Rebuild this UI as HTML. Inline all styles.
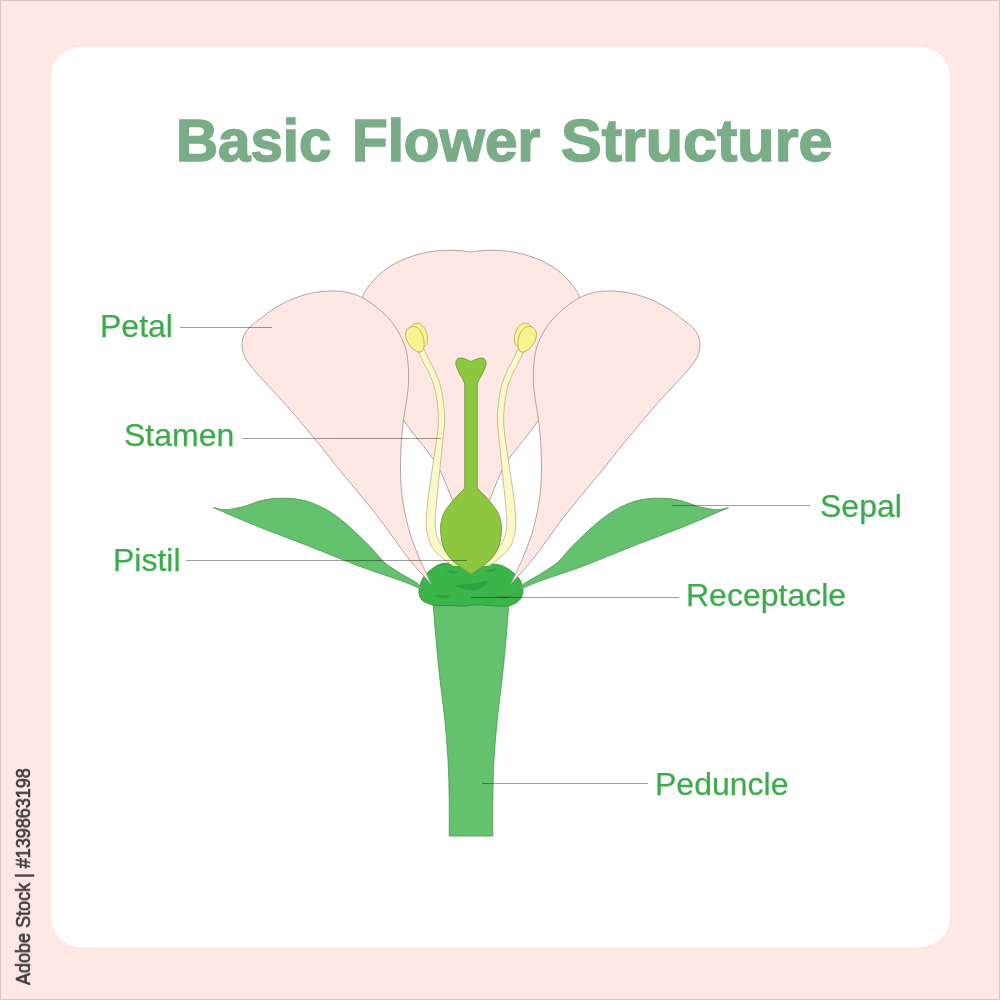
<!DOCTYPE html>
<html><head><meta charset="utf-8"><style>
html,body{margin:0;padding:0;width:1000px;height:1000px;overflow:hidden;background:#ffe7e4}
#frame{position:absolute;left:0;top:0;width:998px;height:998px;border:1px solid #d9c6c3}
#card{position:absolute;left:51px;top:47px;width:899px;height:900px;background:#fff;border-radius:30px}
.t{position:absolute;white-space:nowrap;line-height:1}
.tw{font-family:"Liberation Sans",sans-serif;font-weight:bold;font-size:59px;color:#7aad87;top:112px;-webkit-text-stroke:1.6px #7aad87;transform-origin:0 0}
#wm{position:absolute;left:13px;top:985px;font-family:"Liberation Sans",sans-serif;font-size:20px;line-height:1;color:#3d3d3d;white-space:nowrap;transform-origin:0 0;transform:rotate(-90deg) scaleX(0.9);-webkit-text-stroke:0.7px #3d3d3d;will-change:transform}
.lab{font-family:"Liberation Sans",sans-serif;font-size:32px;color:#3bab4b;-webkit-text-stroke:0.25px #3bab4b;will-change:transform}
</style></head><body>
<div id="frame"></div>
<div id="card"></div>
<div id="wm">Adobe Stock | #139863198</div>
<div class="t tw" style="left:176px;transform:scaleX(0.987)">Basic</div>
<div class="t tw" style="left:352px;transform:scaleX(0.9893)">Flower</div>
<div class="t tw" style="left:561px;transform:scaleX(1.0346)">Structure</div>
<div class="t lab" style="left:100px;top:310px">Petal</div>
<div class="t lab" style="left:124px;top:419px">Stamen</div>
<div class="t lab" style="left:112.5px;top:544px">Pistil</div>
<div class="t lab" style="left:820px;top:490px">Sepal</div>
<div class="t lab" style="left:686px;top:579px">Receptacle</div>
<div class="t lab" style="left:655px;top:768px">Peduncle</div>
<svg width="1000" height="1000" viewBox="0 0 1000 1000" style="position:absolute;left:0;top:0">
<defs><clipPath id="fc"><rect x="0" y="0" width="1000" height="566"/></clipPath></defs>
<g stroke-linejoin="round">
<path d="M471.00,545.00 C464.93,530.33 458.37,514.38 452.80,501.00 C448.12,489.76 443.79,477.82 439.80,470.00 C437.22,464.95 435.92,463.01 432.50,458.00 C426.19,448.76 411.65,432.75 403.50,420.00 C396.08,408.40 390.68,397.59 385.00,385.00 C378.74,371.12 371.91,353.63 368.00,340.00 C364.88,329.13 362.65,317.86 362.00,310.00 C361.59,305.00 361.14,301.80 362.40,297.60 C363.93,292.50 367.84,286.90 372.00,282.00 C376.75,276.41 383.21,270.73 390.00,266.40 C397.13,261.84 405.85,258.21 414.00,255.60 C421.86,253.08 430.14,251.61 438.00,250.80 C445.46,250.03 453.93,250.24 460.00,250.60 C464.31,250.85 467.33,251.53 471.00,252.00 C474.67,251.53 477.69,250.85 482.00,250.60 C488.07,250.24 496.54,250.03 504.00,250.80 C511.86,251.61 520.14,253.08 528.00,255.60 C536.15,258.21 544.87,261.84 552.00,266.40 C558.79,270.73 565.25,276.41 570.00,282.00 C574.16,286.90 578.07,292.50 579.60,297.60 C580.86,301.80 580.41,305.00 580.00,310.00 C579.35,317.86 577.12,329.13 574.00,340.00 C570.09,353.63 563.26,371.12 557.00,385.00 C551.32,397.59 545.92,408.40 538.50,420.00 C530.35,432.75 515.81,448.76 509.50,458.00 C506.08,463.01 504.78,464.95 502.20,470.00 C498.21,477.82 493.88,489.76 489.20,501.00 C483.63,514.38 477.07,530.33 471.00,545.00 Z" fill="#ffe7e4" stroke="#a89c9a" stroke-width="0.9"/>
<path d="M432.80,600.00 C433.87,613.33 434.80,626.67 436.00,640.00 C437.20,653.34 438.53,666.67 440.00,680.00 C441.47,693.34 443.47,706.65 444.80,720.00 C446.13,733.32 447.27,746.66 448.00,760.00 C448.73,773.32 449.01,787.02 449.20,800.00 C449.38,812.31 449.20,824.00 449.20,836.00 C463.73,836.00 478.27,836.00 492.80,836.00 C492.80,824.00 492.62,812.31 492.80,800.00 C492.99,787.02 493.27,773.32 494.00,760.00 C494.73,746.66 495.87,733.32 497.20,720.00 C498.53,706.65 500.53,693.34 502.00,680.00 C503.47,666.67 504.80,653.34 506.00,640.00 C507.20,626.67 508.13,613.33 509.20,600.00 Z" fill="#64c16e" stroke="#3f8f4a" stroke-width="0.7"/>
<path d="M419.00,591.00 C418.92,593.98 419.51,596.92 421.00,599.00 C422.50,601.09 425.49,602.42 428.00,603.50 C430.50,604.58 432.94,605.12 436.00,605.50 C439.99,605.99 445.33,605.38 450.00,605.50 C454.67,605.62 459.52,606.35 464.00,606.20 C468.16,606.06 471.84,604.92 476.00,604.80 C480.48,604.67 485.18,605.37 490.00,605.60 C495.15,605.84 501.47,606.78 506.00,606.20 C509.47,605.76 512.44,604.95 515.00,603.50 C517.38,602.15 519.67,600.24 521.00,598.00 C522.34,595.75 523.07,592.81 523.00,590.00 C522.93,586.84 521.74,583.00 520.00,580.00 C518.16,576.83 515.15,574.03 512.00,571.60 C508.57,568.96 504.38,566.28 500.00,565.00 C495.41,563.66 489.90,563.82 485.00,564.00 C480.24,564.18 475.75,565.98 471.00,566.00 C466.09,566.02 460.89,564.40 456.00,564.00 C451.37,563.62 446.53,562.69 442.40,563.60 C438.59,564.44 435.17,566.49 432.00,568.80 C428.67,571.23 425.16,574.37 423.00,578.00 C420.78,581.73 419.10,587.18 419.00,591.00 Z" fill="#3bb44a" stroke="#2f8d3b" stroke-width="0.8"/>
<g fill="#31a243">
<path d="M445.5,570 Q452,570.5 458,571.8 Q453,576 445.5,570Z"/>
<path d="M455,585 Q470,584.5 488.5,580.5 Q482,592 468,590 Q460,589 455,585Z"/>
<path d="M434,594.5 Q443,595 452,595.8 Q443,602 434,594.5Z"/>
<path d="M485,570.5 Q491,569.5 497,567.5 Q492,575 485,570.5Z"/>
<path d="M495,596 Q505,596 514,594.5 Q505,603 495,596Z"/>
</g>
<path d="M422.80,588.60 C421.20,587.00 420.26,585.56 418.00,583.80 C414.03,580.70 405.73,576.70 400.00,573.00 C394.55,569.49 389.05,566.28 384.40,562.20 C379.89,558.25 376.45,553.25 372.40,549.00 C368.45,544.86 364.63,541.05 360.40,537.00 C355.86,532.66 351.19,528.06 346.00,523.80 C340.45,519.24 334.19,514.26 328.00,510.60 C322.17,507.14 315.83,504.20 310.00,502.20 C304.87,500.44 299.75,499.45 295.00,498.80 C290.80,498.22 287.00,498.20 283.00,498.20 C279.00,498.20 274.98,498.31 271.00,498.80 C266.98,499.30 262.96,500.12 259.00,501.20 C254.96,502.30 251.03,504.19 247.00,505.40 C243.03,506.59 239.03,507.70 235.00,508.40 C231.03,509.09 226.76,509.80 223.00,509.60 C219.61,509.42 216.60,508.27 213.40,507.60 C226.60,513.27 238.54,518.71 253.00,524.60 C270.22,531.61 291.84,539.46 310.00,546.60 C326.71,553.17 341.93,559.78 358.00,565.80 C373.93,571.77 394.16,578.00 406.00,582.60 C413.10,585.36 417.20,587.40 422.80,589.80 Z" fill="#64c16e" stroke="#3f8f4a" stroke-width="0.7"/>
<path d="M519.20,588.60 C520.80,587.00 521.74,585.56 524.00,583.80 C527.97,580.70 536.27,576.70 542.00,573.00 C547.45,569.49 552.95,566.28 557.60,562.20 C562.11,558.25 565.55,553.25 569.60,549.00 C573.55,544.86 577.37,541.05 581.60,537.00 C586.14,532.66 590.81,528.06 596.00,523.80 C601.55,519.24 607.81,514.26 614.00,510.60 C619.83,507.14 626.17,504.20 632.00,502.20 C637.13,500.44 642.25,499.45 647.00,498.80 C651.20,498.22 655.00,498.20 659.00,498.20 C663.00,498.20 667.02,498.31 671.00,498.80 C675.02,499.30 679.04,500.12 683.00,501.20 C687.04,502.30 690.97,504.19 695.00,505.40 C698.97,506.59 702.97,507.70 707.00,508.40 C710.97,509.09 715.24,509.80 719.00,509.60 C722.39,509.42 725.40,508.27 728.60,507.60 C715.40,513.27 703.46,518.71 689.00,524.60 C671.78,531.61 650.16,539.46 632.00,546.60 C615.29,553.17 600.07,559.78 584.00,565.80 C568.07,571.77 547.84,578.00 536.00,582.60 C528.90,585.36 524.80,587.40 519.20,589.80 Z" fill="#64c16e" stroke="#3f8f4a" stroke-width="0.7"/>
<path d="M431.40,584.40 C424.13,576.20 417.19,569.21 409.60,559.80 C400.23,548.18 388.97,531.09 380.00,519.40 C372.91,510.16 366.87,502.89 360.40,495.00 C354.21,487.45 348.58,481.06 342.00,473.00 C334.14,463.37 325.71,452.18 316.50,441.00 C306.07,428.33 292.38,412.11 282.50,401.00 C275.20,392.79 268.79,386.46 263.00,380.00 C258.18,374.62 253.36,369.63 250.00,365.00 C247.43,361.45 245.33,358.45 244.00,355.00 C242.75,351.77 242.08,348.04 242.00,345.00 C241.93,342.47 242.19,340.40 243.00,338.00 C243.98,335.10 245.63,331.87 248.00,329.00 C250.93,325.47 255.72,322.35 260.00,319.00 C264.67,315.35 269.48,311.37 275.00,308.00 C281.05,304.31 288.20,300.60 295.00,298.00 C301.55,295.49 308.28,293.67 315.00,292.50 C321.61,291.35 328.82,290.82 335.00,291.00 C340.37,291.15 345.34,291.83 350.00,293.00 C354.29,294.08 358.03,295.49 362.00,297.50 C366.37,299.71 370.66,302.60 375.00,306.00 C379.99,309.91 385.75,314.99 390.00,320.00 C393.99,324.70 397.29,329.86 400.00,335.00 C402.56,339.87 404.59,344.54 406.00,350.00 C407.57,356.10 408.17,363.32 408.50,370.00 C408.83,376.65 408.64,382.68 408.00,390.00 C407.21,399.01 404.62,411.00 403.50,420.00 C402.58,427.33 401.99,432.65 401.50,440.00 C400.90,448.98 400.36,460.36 400.50,470.00 C400.63,478.98 400.91,486.89 402.10,496.00 C403.44,506.27 405.83,518.36 408.60,528.50 C411.13,537.74 414.12,545.62 417.70,554.50 C421.61,564.21 426.83,574.43 431.40,584.40 Z" fill="#ffe7e4" stroke="#a89c9a" stroke-width="0.9"/>
<path d="M510.60,584.40 C517.87,576.20 524.81,569.21 532.40,559.80 C541.77,548.18 553.03,531.09 562.00,519.40 C569.09,510.16 575.13,502.89 581.60,495.00 C587.79,487.45 593.42,481.06 600.00,473.00 C607.86,463.37 616.29,452.18 625.50,441.00 C635.93,428.33 649.62,412.11 659.50,401.00 C666.80,392.79 673.21,386.46 679.00,380.00 C683.82,374.62 688.64,369.63 692.00,365.00 C694.57,361.45 696.67,358.45 698.00,355.00 C699.25,351.77 699.92,348.04 700.00,345.00 C700.07,342.47 699.81,340.40 699.00,338.00 C698.02,335.10 696.37,331.87 694.00,329.00 C691.07,325.47 686.28,322.35 682.00,319.00 C677.33,315.35 672.52,311.37 667.00,308.00 C660.95,304.31 653.80,300.60 647.00,298.00 C640.45,295.49 633.72,293.67 627.00,292.50 C620.39,291.35 613.18,290.82 607.00,291.00 C601.63,291.15 596.66,291.83 592.00,293.00 C587.71,294.08 583.97,295.49 580.00,297.50 C575.63,299.71 571.34,302.60 567.00,306.00 C562.01,309.91 556.25,314.99 552.00,320.00 C548.01,324.70 544.71,329.86 542.00,335.00 C539.44,339.87 537.41,344.54 536.00,350.00 C534.43,356.10 533.83,363.32 533.50,370.00 C533.17,376.65 533.36,382.68 534.00,390.00 C534.79,399.01 537.38,411.00 538.50,420.00 C539.42,427.33 540.01,432.65 540.50,440.00 C541.10,448.98 541.64,460.36 541.50,470.00 C541.37,478.98 541.09,486.89 539.90,496.00 C538.56,506.27 536.17,518.36 533.40,528.50 C530.87,537.74 527.88,545.62 524.30,554.50 C520.39,564.21 515.17,574.43 510.60,584.40 Z" fill="#ffe7e4" stroke="#a89c9a" stroke-width="0.9"/>
<g clip-path="url(#fc)">
<path d="M418.20,351.33 L418.88,352.76 L419.57,354.22 L420.27,355.71 L420.97,357.21 L421.68,358.70 L422.37,360.16 L423.05,361.58 L423.71,362.94 L424.34,364.23 L424.94,365.42 L425.34,366.16 L425.71,366.84 L426.06,367.45 L426.39,368.02 L426.71,368.55 L427.00,369.06 L427.30,369.57 L427.59,370.11 L427.88,370.68 L428.20,371.33 L428.75,372.51 L429.35,373.82 L429.97,375.22 L430.61,376.69 L431.25,378.21 L431.88,379.77 L432.48,381.34 L433.05,382.89 L433.57,384.42 L434.03,385.89 L434.43,387.29 L434.80,388.69 L435.13,390.09 L435.44,391.50 L435.73,392.92 L436.00,394.36 L436.24,395.82 L436.48,397.32 L436.71,398.85 L436.93,400.42 L437.18,402.26 L437.41,404.12 L437.63,406.00 L437.83,407.90 L438.01,409.82 L438.16,411.78 L438.28,413.76 L438.36,415.79 L438.40,417.85 L438.40,419.95 L438.32,422.64 L438.15,425.49 L437.91,428.47 L437.60,431.53 L437.26,434.65 L436.88,437.77 L436.47,440.87 L436.01,443.90 L435.58,446.83 L435.19,449.61 L434.89,451.74 L434.61,453.74 L434.32,455.66 L434.04,457.53 L433.76,459.38 L433.47,461.25 L433.17,463.17 L432.87,465.18 L432.56,467.29 L432.23,469.54 L431.73,472.96 L431.17,476.69 L430.57,480.66 L429.95,484.79 L429.32,489.01 L428.71,493.23 L428.14,497.38 L427.66,501.39 L427.29,505.18 L427.01,508.65 L426.85,510.88 L426.68,513.00 L426.51,515.05 L426.36,517.07 L426.24,519.06 L426.16,521.04 L426.14,523.03 L426.18,525.03 L426.31,527.05 L426.54,529.07 L426.81,530.95 L427.13,532.81 L427.50,534.68 L427.93,536.55 L428.42,538.41 L428.99,540.26 L429.63,542.08 L430.37,543.87 L431.20,545.62 L432.14,547.32 L433.17,548.89 L434.29,550.37 L435.48,551.76 L436.71,553.06 L437.98,554.29 L439.25,555.45 L440.53,556.54 L441.79,557.58 L443.01,558.57 L444.19,559.52 L445.28,560.38 L446.40,561.24 L447.53,562.08 L448.68,562.90 L449.86,563.70 L451.07,564.47 L452.31,565.20 L453.59,565.90 L454.91,566.55 L456.24,567.14 L457.60,567.69 L458.98,568.20 L460.39,568.68 L461.84,569.11 L463.32,569.50 L464.82,569.84 L466.34,570.12 L467.88,570.32 L469.43,570.45 L471.00,570.50 L472.57,570.45 L474.12,570.32 L475.66,570.12 L477.18,569.84 L478.68,569.50 L480.16,569.11 L481.61,568.68 L483.02,568.20 L484.40,567.69 L485.76,567.14 L487.09,566.55 L488.41,565.90 L489.69,565.20 L490.93,564.47 L492.14,563.70 L493.32,562.90 L494.47,562.08 L495.60,561.24 L496.72,560.38 L497.81,559.52 L498.99,558.57 L500.21,557.58 L501.47,556.54 L502.75,555.45 L504.02,554.29 L505.29,553.06 L506.52,551.76 L507.71,550.37 L508.83,548.89 L509.86,547.32 L510.80,545.62 L511.63,543.87 L512.37,542.08 L513.01,540.26 L513.58,538.41 L514.07,536.55 L514.50,534.68 L514.87,532.81 L515.19,530.95 L515.46,529.07 L515.69,527.05 L515.82,525.03 L515.86,523.03 L515.84,521.04 L515.76,519.06 L515.64,517.07 L515.49,515.05 L515.32,513.00 L515.15,510.88 L514.99,508.65 L514.71,505.18 L514.34,501.39 L513.86,497.38 L513.29,493.23 L512.68,489.01 L512.05,484.79 L511.43,480.66 L510.83,476.69 L510.27,472.96 L509.77,469.54 L509.44,467.29 L509.13,465.18 L508.83,463.17 L508.53,461.25 L508.24,459.38 L507.96,457.53 L507.68,455.66 L507.39,453.74 L507.11,451.74 L506.81,449.61 L506.42,446.83 L505.99,443.90 L505.53,440.87 L505.12,437.77 L504.74,434.65 L504.40,431.53 L504.09,428.47 L503.85,425.49 L503.68,422.64 L503.60,419.95 L503.60,417.85 L503.64,415.79 L503.72,413.76 L503.84,411.78 L503.99,409.82 L504.17,407.90 L504.37,406.00 L504.59,404.12 L504.82,402.26 L505.07,400.42 L505.29,398.85 L505.52,397.32 L505.76,395.82 L506.00,394.36 L506.27,392.92 L506.56,391.50 L506.87,390.09 L507.20,388.69 L507.57,387.29 L507.97,385.89 L508.43,384.42 L508.95,382.89 L509.52,381.34 L510.12,379.77 L510.75,378.21 L511.39,376.69 L512.03,375.22 L512.65,373.82 L513.25,372.51 L513.80,371.33 L514.12,370.68 L514.41,370.11 L514.70,369.57 L515.00,369.06 L515.29,368.55 L515.61,368.02 L515.94,367.45 L516.29,366.84 L516.66,366.16 L517.06,365.42 L517.66,364.23 L518.29,362.94 L518.95,361.58 L519.63,360.16 L520.32,358.70 L521.03,357.21 L521.73,355.71 L522.43,354.22 L523.12,352.76 L523.80,351.33 L518.20,348.67 L517.52,350.10 L516.82,351.57 L516.12,353.07 L515.42,354.57 L514.72,356.05 L514.03,357.50 L513.36,358.90 L512.72,360.22 L512.11,361.46 L511.54,362.58 L511.21,363.22 L510.89,363.80 L510.57,364.35 L510.27,364.87 L509.95,365.41 L509.63,365.96 L509.29,366.56 L508.94,367.20 L508.57,367.90 L508.20,368.67 L507.62,369.91 L507.00,371.27 L506.35,372.73 L505.69,374.26 L505.02,375.86 L504.36,377.50 L503.72,379.16 L503.11,380.83 L502.54,382.49 L502.03,384.11 L501.59,385.65 L501.19,387.18 L500.82,388.70 L500.49,390.22 L500.18,391.74 L499.90,393.27 L499.64,394.82 L499.39,396.38 L499.16,397.96 L498.93,399.58 L498.68,401.46 L498.43,403.37 L498.21,405.31 L498.00,407.28 L497.81,409.30 L497.65,411.36 L497.53,413.46 L497.44,415.60 L497.40,417.80 L497.40,420.05 L497.49,422.92 L497.67,425.93 L497.92,429.03 L498.23,432.18 L498.58,435.36 L498.96,438.53 L499.32,441.65 L499.64,444.69 L499.93,447.61 L500.19,450.39 L500.39,452.53 L500.58,454.57 L500.78,456.52 L500.98,458.42 L501.18,460.30 L501.38,462.18 L501.58,464.11 L501.79,466.11 L502.01,468.21 L502.23,470.46 L502.57,473.92 L502.96,477.69 L503.38,481.68 L503.80,485.83 L504.23,490.04 L504.64,494.25 L505.02,498.36 L505.39,502.30 L505.74,505.98 L506.01,509.35 L506.18,511.57 L506.35,513.72 L506.51,515.74 L506.66,517.67 L506.77,519.51 L506.84,521.28 L506.86,522.98 L506.82,524.64 L506.72,526.27 L506.54,527.93 L506.30,529.54 L506.02,531.18 L505.70,532.80 L505.34,534.39 L504.93,535.94 L504.47,537.44 L503.96,538.87 L503.40,540.23 L502.80,541.50 L502.14,542.68 L501.47,543.71 L500.70,544.72 L499.84,545.73 L498.89,546.73 L497.87,547.72 L496.79,548.70 L495.67,549.66 L494.52,550.61 L493.35,551.56 L492.19,552.48 L491.17,553.29 L490.17,554.06 L489.18,554.80 L488.19,555.51 L487.21,556.17 L486.22,556.79 L485.24,557.37 L484.26,557.91 L483.26,558.40 L482.24,558.86 L481.15,559.30 L480.02,559.72 L478.87,560.10 L477.71,560.45 L476.55,560.76 L475.40,561.02 L474.26,561.23 L473.14,561.38 L472.05,561.47 L471.00,561.50 L469.95,561.47 L468.86,561.38 L467.74,561.23 L466.60,561.02 L465.45,560.76 L464.29,560.45 L463.13,560.10 L461.98,559.72 L460.85,559.30 L459.76,558.86 L458.74,558.40 L457.74,557.91 L456.76,557.37 L455.78,556.79 L454.79,556.17 L453.81,555.51 L452.82,554.80 L451.83,554.06 L450.83,553.29 L449.81,552.48 L448.65,551.56 L447.48,550.61 L446.33,549.66 L445.21,548.70 L444.13,547.72 L443.11,546.73 L442.16,545.73 L441.30,544.72 L440.53,543.71 L439.86,542.68 L439.20,541.50 L438.60,540.23 L438.04,538.87 L437.53,537.44 L437.07,535.94 L436.66,534.39 L436.30,532.80 L435.98,531.18 L435.70,529.54 L435.46,527.93 L435.28,526.27 L435.18,524.64 L435.14,522.98 L435.16,521.28 L435.23,519.51 L435.34,517.67 L435.49,515.74 L435.65,513.72 L435.82,511.57 L435.99,509.35 L436.26,505.98 L436.61,502.30 L436.98,498.36 L437.36,494.25 L437.77,490.04 L438.20,485.83 L438.62,481.68 L439.04,477.69 L439.43,473.92 L439.77,470.46 L439.99,468.21 L440.21,466.11 L440.42,464.11 L440.62,462.18 L440.82,460.30 L441.02,458.42 L441.22,456.52 L441.42,454.57 L441.61,452.53 L441.81,450.39 L442.07,447.61 L442.36,444.69 L442.68,441.65 L443.04,438.53 L443.42,435.36 L443.77,432.18 L444.08,429.03 L444.33,425.93 L444.51,422.92 L444.60,420.05 L444.60,417.80 L444.56,415.60 L444.47,413.46 L444.35,411.36 L444.19,409.30 L444.00,407.28 L443.79,405.31 L443.57,403.37 L443.32,401.46 L443.07,399.58 L442.84,397.96 L442.61,396.38 L442.36,394.82 L442.10,393.27 L441.82,391.74 L441.51,390.22 L441.18,388.70 L440.81,387.18 L440.41,385.65 L439.97,384.11 L439.46,382.49 L438.89,380.83 L438.28,379.16 L437.64,377.50 L436.98,375.86 L436.31,374.26 L435.65,372.73 L435.00,371.27 L434.38,369.91 L433.80,368.67 L433.43,367.90 L433.06,367.20 L432.71,366.56 L432.37,365.96 L432.05,365.41 L431.73,364.87 L431.43,364.35 L431.11,363.80 L430.79,363.22 L430.46,362.58 L429.89,361.46 L429.28,360.22 L428.64,358.90 L427.97,357.50 L427.28,356.05 L426.58,354.57 L425.88,353.07 L425.18,351.57 L424.48,350.10 L423.80,348.67 Z" fill="#fbf9c9" stroke="#b4b188" stroke-width="0.8"/>
</g>
<g fill="#f8f38f" stroke="#a8a45e" stroke-width="0.7">
<path d="M0,-13.5 C5.5,-13.5 8.5,-8 8.3,-2 C8,6 4,13.5 0,13.5 C-4,13.5 -8,6 -8.3,-2 C-8.5,-8 -5.5,-13.5 0,-13.5 Z" transform="translate(419.5 335) rotate(-27) scale(0.92)"/>
<path d="M0,-13.5 C5.5,-13.5 8.5,-8 8.3,-2 C8,6 4,13.5 0,13.5 C-4,13.5 -8,6 -8.3,-2 C-8.5,-8 -5.5,-13.5 0,-13.5 Z" transform="translate(415.5 339.5) rotate(-24)"/>
<path d="M0,-13.5 C5.5,-13.5 8.5,-8 8.3,-2 C8,6 4,13.5 0,13.5 C-4,13.5 -8,6 -8.3,-2 C-8.5,-8 -5.5,-13.5 0,-13.5 Z" transform="translate(522.5 335) rotate(27) scale(0.92)"/>
<path d="M0,-13.5 C5.5,-13.5 8.5,-8 8.3,-2 C8,6 4,13.5 0,13.5 C-4,13.5 -8,6 -8.3,-2 C-8.5,-8 -5.5,-13.5 0,-13.5 Z" transform="translate(526.5 339.5) rotate(24)"/>
</g>
<path d="M471,574.5 C464.93,570.00 457.54,565.87 452.80,561.00 C448.84,556.93 445.75,553.04 443.70,548.00 C441.41,542.38 440.56,534.01 440.50,528.50 C440.46,524.47 441.13,521.10 442.00,518.00 C442.74,515.38 443.56,513.47 445.00,511.00 C446.90,507.74 449.97,504.07 453.00,500.50 C456.45,496.43 460.83,492.17 464.75,488.00 L464.75,384 C463.5,379 457,371 456,365 C455.2,360 457.5,357.8 461,358 C465,358.5 468,360 471,361.5 C474,360 477,358.5 481,358 C484.5,357.8 486.8,360 486,365 C485,371 478.5,379 477.25,384 L477.25,488 C481.17,492.17 485.55,496.43 489.00,500.50 C492.03,504.07 495.10,507.74 497.00,511.00 C498.44,513.47 499.26,515.38 500.00,518.00 C500.87,521.10 501.54,524.47 501.50,528.50 C501.44,534.01 500.59,542.38 498.30,548.00 C496.25,553.04 493.16,556.93 489.20,561.00 C484.46,565.87 477.07,570.00 471.00,574.50 Z" fill="#8dc63f" stroke="#6a9239" stroke-width="0.8"/>
<g stroke="#000" stroke-opacity="0.38" stroke-width="1">
<line x1="180" y1="327.5" x2="272" y2="327.5"/>
<line x1="242" y1="438.5" x2="441" y2="438.5"/>
<line x1="186" y1="560.5" x2="467" y2="560.5"/>
<line x1="672" y1="505.5" x2="810" y2="505.5"/>
<line x1="471" y1="597.5" x2="679" y2="597.5"/>
<line x1="482" y1="783.5" x2="648" y2="783.5"/>
</g>
</g>
</svg>
</body></html>
